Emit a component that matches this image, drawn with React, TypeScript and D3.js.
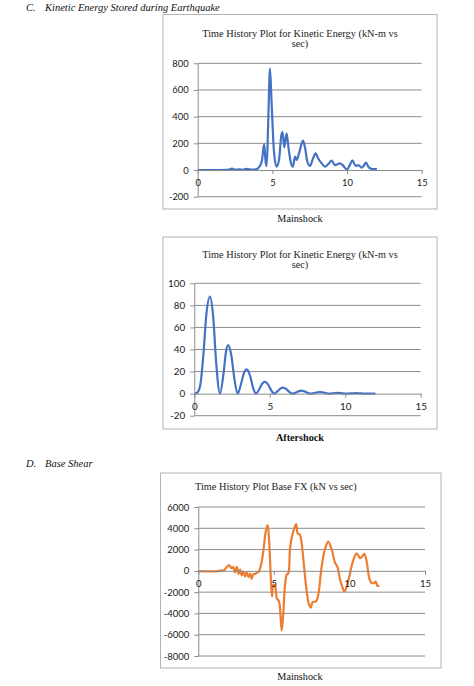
import React, { useEffect, useRef } from "react";
import * as d3 from "d3";

// === Data ===
// Mainshock kinetic energy (kN-m) vs time (sec)
const mainKeTime = [
  0, 1, 2, 2.3, 2.5, 2.8, 3.0, 3.3, 3.6, 3.9, 4.1, 4.3, 4.45, 4.55, 4.62, 4.72,
  4.84, 4.95, 5.1, 5.28, 5.45, 5.6, 5.68, 5.8, 5.95, 6.1, 6.25, 6.38, 6.52,
  6.63, 6.8, 7.05, 7.2, 7.35, 7.52, 7.7, 7.9, 8.05, 8.3, 8.53, 8.75, 8.97,
  9.2, 9.35, 9.49, 9.71, 9.85, 9.98, 10.2, 10.36, 10.58, 10.76, 10.98, 11.12,
  11.27, 11.45, 11.6, 11.8, 12.0,
];
const mainKeValue = [
  0, 0, 2, 10, 3, 5, 2, 8, 3, 5, 20, 70, 195, 60, 30, 350, 760, 500, 150, 25,
  80, 260, 285, 170, 275, 150, 50, 25, 100, 75, 130, 220, 160, 60, 30, 80, 125,
  90, 50, 25, 45, 70, 37, 42, 50, 37, 18, 3, 40, 72, 30, 37, 17, 32, 55, 20, 10,
  6, 6,
];

// Aftershock kinetic energy (kN-m) vs time (sec)
const afterKeTime = [
  0, 0.2, 0.4, 0.6, 0.8, 1.04, 1.25, 1.45, 1.7, 1.95, 2.1, 2.25, 2.45, 2.65,
  2.87, 3.1, 3.3, 3.47, 3.7, 3.9, 4.09, 4.3, 4.5, 4.68, 4.9, 5.1, 5.28, 5.5,
  5.7, 5.9, 6.1, 6.3, 6.5, 6.9, 7.1, 7.3, 7.7, 8.1, 8.33, 8.55, 8.95, 9.3, 9.5,
  9.7, 10.1, 10.5, 10.7, 10.9, 11.3, 11.7, 12.0,
];
const afterKeValue = [
  0, 1, 8, 35, 72, 88, 70, 28, 0, 20, 38, 44, 35, 14, 0, 9, 19, 22, 16, 5, 0, 4,
  9, 10.6, 8, 3, 0, 2, 4.5, 5.5, 4, 1.5, 0, 2, 2.7, 2, 0, 1, 1.3, 1, 0, 0.5, 0.7,
  0.5, 0, 0.3, 0.4, 0.3, 0, 0.1, 0,
];

// Mainshock base shear FX (kN) vs time (sec)
const baseShearTime = [
  0, 0.6, 1.2, 1.5, 1.7, 1.88, 2.03, 2.2, 2.32, 2.43, 2.55, 2.66, 2.77, 2.88,
  2.98, 3.09, 3.2, 3.32, 3.43, 3.53, 3.64, 3.76, 3.88, 3.98, 4.15, 4.3, 4.46,
  4.59, 4.7, 4.81, 4.88, 4.96, 5.08, 5.19, 5.34, 5.45, 5.52, 5.63, 5.74, 5.85,
  5.96, 6.07, 6.22, 6.35, 6.47, 6.58, 6.73, 6.84, 7.01, 7.17, 7.33, 7.44, 7.57,
  7.79, 7.94, 8.12, 8.27, 8.43, 8.6, 8.83, 9.05, 9.2, 9.38, 9.56, 9.66, 9.82,
  10.04, 10.26, 10.48, 10.7, 10.81, 10.98, 11.14, 11.31, 11.47, 11.63, 11.74,
  11.85, 11.98,
];
const baseShearValue = [
  -30, -50, -40, 30, 60, 350, 550, 250, 350, -150, 380, -300, 120, -420, -80,
  -520, -150, -580, -250, -750, -300, -300, -150, -120, 560, 1800, 3680, 4300,
  2430, -1000, -2400, -1300, -1450, -2550, -2870, -4420, -5600, -3800, -1300,
  -370, -220, 2120, 3370, 4000, 4400, 3520, 3370, 2590, 250, -1930, -3180,
  -3450, -2930, -2870, -2240, -60, 1340, 2270, 2750, 2000, 750, 400, -840,
  -1620, -1950, -1470, -220, 1030, 1650, 1190, 1280, 1600, 870, -680, -1150,
  -1150, -1000, -1400, -1400,
];

const xTicks = [0, 5, 10, 15];
const mainKeTicks = [-200, 0, 200, 400, 600, 800];
const afterKeTicks = [-20, 0, 20, 40, 60, 80, 100];
const baseShearTicks = [-8000, -6000, -4000, -2000, 0, 2000, 4000, 6000];

const GRID = "#8c8c8c";
const SERIF = "'Liberation Serif', 'Times New Roman', serif";
const SANS = "Lato, 'Liberation Sans', sans-serif";

type Panel = {
  frame: [number, number, number, number];
  xRange: [number, number];
  yRange: [number, number];
  yTicks: number[];
  time: number[];
  values: number[];
  color: string;
  curve: d3.CurveFactory;
  titleLines: string[];
  titleX: number;
  titleAnchor: string;
  titleY: number;
  caption: string;
  captionBold: boolean;
  captionY: number;
  tickFont: number;
};

// plain hyphen minus, no thousands separator (as in the Excel export)
const plain = (d: d3.NumberValue) => String(d);

function drawPanel(svg: d3.Selection<SVGSVGElement, unknown, null, undefined>, p: Panel) {
  const [fx, fy, fw, fh] = p.frame;
  const g = svg.append("g");

  g.append("rect")
    .attr("x", fx)
    .attr("y", fy)
    .attr("width", fw)
    .attr("height", fh)
    .attr("fill", "white")
    .attr("stroke", "#b4b4b4")
    .attr("stroke-width", 1);

  const x = d3.scaleLinear().domain([0, 15]).range(p.xRange);
  const y = d3
    .scaleLinear()
    .domain([p.yTicks[0], p.yTicks[p.yTicks.length - 1]])
    .range(p.yRange);

  // horizontal gridlines
  g.append("g")
    .selectAll("line")
    .data(p.yTicks.filter((t) => t !== 0))
    .join("line")
    .attr("x1", x(0))
    .attr("x2", x(15))
    .attr("y1", (d) => y(d))
    .attr("y2", (d) => y(d))
    .attr("stroke", GRID)
    .attr("stroke-width", 1);

  // series line
  const pts = p.time.map((t, i) => [t, p.values[i]] as [number, number]);
  const line = d3
    .line<[number, number]>()
    .x((d) => x(d[0]))
    .y((d) => y(d[1]))
    .curve(p.curve);
  g.append("path")
    .attr("fill", "none")
    .attr("stroke", p.color)
    .attr("stroke-width", 2.2)
    .attr("stroke-linejoin", "round")
    .attr("d", line(pts));

  // y axis
  g.append("g")
    .attr("transform", `translate(${x(0)},0)`)
    .call(
      d3.axisLeft(y).tickValues(p.yTicks).tickFormat(plain).tickSize(4).tickSizeOuter(0).tickPadding(5)
    )
    .call((a) => a.selectAll("path,line").attr("stroke", GRID))
    .call((a) =>
      a.selectAll("text").attr("font-family", SANS).attr("font-size", p.tickFont).attr("fill", "#1a1a1a")
    );

  // x axis on the zero line
  g.append("g")
    .attr("transform", `translate(0,${y(0)})`)
    .call(
      d3.axisBottom(x).tickValues(xTicks).tickFormat(plain).tickSize(4).tickSizeOuter(0).tickPadding(5)
    )
    .call((a) => a.selectAll("path,line").attr("stroke", GRID))
    .call((a) =>
      a.selectAll("text").attr("font-family", SANS).attr("font-size", p.tickFont).attr("fill", "#1a1a1a")
    );

  // title
  const title = g
    .append("text")
    .attr("font-family", SERIF)
    .attr("font-size", 10.3)
    .attr("fill", "#222")
    .attr("text-anchor", p.titleAnchor);
  p.titleLines.forEach((s, i) => {
    title
      .append("tspan")
      .attr("x", p.titleX)
      .attr("y", p.titleY + i * 10.6)
      .text(s);
  });

  // caption under the frame
  svg
    .append("text")
    .attr("x", 300)
    .attr("y", p.captionY)
    .attr("text-anchor", "middle")
    .attr("font-family", SERIF)
    .attr("font-size", 10.2)
    .attr("font-weight", p.captionBold ? "bold" : "normal")
    .attr("fill", "#111")
    .text(p.caption);
}

const App = () => {
  const svgRef = useRef<SVGSVGElement | null>(null);

  useEffect(() => {
    const svg = d3.select(svgRef.current!);
    svg.selectAll("*").remove();

    svg.append("rect").attr("width", 474).attr("height", 686).attr("fill", "white");

    // section headings
    const heading = (yy: number, letter: string, text: string) => {
      const t = svg
        .append("text")
        .attr("y", yy)
        .attr("font-family", SERIF)
        .attr("font-style", "italic")
        .attr("font-size", 10.5)
        .attr("fill", "#111");
      t.append("tspan").attr("x", 26).text(letter);
      t.append("tspan").attr("x", 45).text(text);
    };
    heading(10.5, "C.", "Kinetic Energy Stored during Earthquake");
    heading(467, "D.", "Base Shear");

    drawPanel(svg, {
      frame: [163, 14.5, 274, 194.5],
      xRange: [197.7, 421.7],
      yRange: [196.7, 63.3],
      yTicks: mainKeTicks,
      time: mainKeTime,
      values: mainKeValue,
      color: "#4472c4",
      curve: d3.curveMonotoneX,
      titleLines: ["Time History Plot for Kinetic Energy (kN-m vs", "sec)"],
      titleX: 300,
      titleAnchor: "middle",
      titleY: 36.5,
      caption: "Mainshock",
      captionBold: false,
      captionY: 221.5,
      tickFont: 9.4,
    });

    drawPanel(svg, {
      frame: [163, 237, 274, 192],
      xRange: [194.3, 420.7],
      yRange: [415.7, 283.3],
      yTicks: afterKeTicks,
      time: afterKeTime,
      values: afterKeValue,
      color: "#4472c4",
      curve: d3.curveMonotoneX,
      titleLines: ["Time History Plot for Kinetic Energy (kN-m vs", "sec)"],
      titleX: 300,
      titleAnchor: "middle",
      titleY: 257.5,
      caption: "Aftershock",
      captionBold: true,
      captionY: 440.5,
      tickFont: 9.9,
    });

    drawPanel(svg, {
      frame: [160.5, 473, 280.5, 195],
      xRange: [198.3, 425],
      yRange: [656, 507],
      yTicks: baseShearTicks,
      time: baseShearTime,
      values: baseShearValue,
      color: "#ed7d31",
      curve: d3.curveCatmullRom.alpha(0.5),
      titleLines: ["Time History Plot Base FX (kN vs sec)"],
      titleX: 195,
      titleAnchor: "start",
      titleY: 490,
      caption: "Mainshock",
      captionBold: false,
      captionY: 680,
      tickFont: 9.5,
    });
  }, []);

  return (
    <div style={{ position: "absolute", left: 0, top: 0 }}>
      <svg ref={svgRef} width={474} height={686} style={{ display: "block" }}></svg>
    </div>
  );
};

export default App;
